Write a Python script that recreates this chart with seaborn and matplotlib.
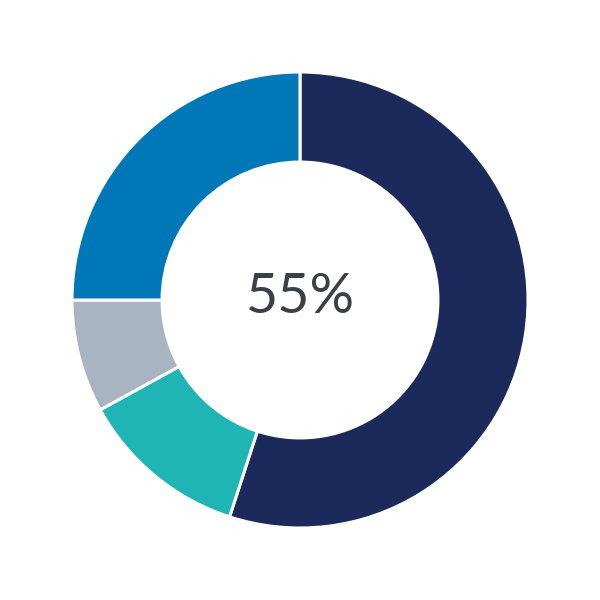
"""Donut chart with a center percentage label."""

import matplotlib
matplotlib.use("Agg")
import matplotlib.pyplot as plt
import seaborn as sns

# Data
segments = ["Segment A", "Segment B", "Segment C", "Segment D"]
shares = [55, 12, 8, 25]
colors = ["#1b2a5a", "#1fb5b5", "#a9b4c2", "#0077b6"]
center_label = "55%"

sns.set_theme(style="white")
plt.rcParams['font.family'] = ['Lato', 'DejaVu Sans']

fig = plt.figure(figsize=(6, 6), dpi=100)
ax = fig.add_axes([0, 0, 1, 1])

ax.pie(shares, colors=colors, startangle=90, counterclock=False,
       radius=1.0,
       wedgeprops={'width': 0.395, 'edgecolor': 'white', 'linewidth': 2.2})

ax.text(0, 0.01, center_label, ha='center', va='center', fontsize=40,
        color='#3a3f48', fontweight='normal')

lim = 300 / 228
ax.set_xlim(-lim, lim)
ax.set_ylim(-lim, lim)
ax.set_aspect('equal')
ax.axis('off')

fig.savefig("out.png", dpi=100, facecolor='white')
plt.close(fig)
